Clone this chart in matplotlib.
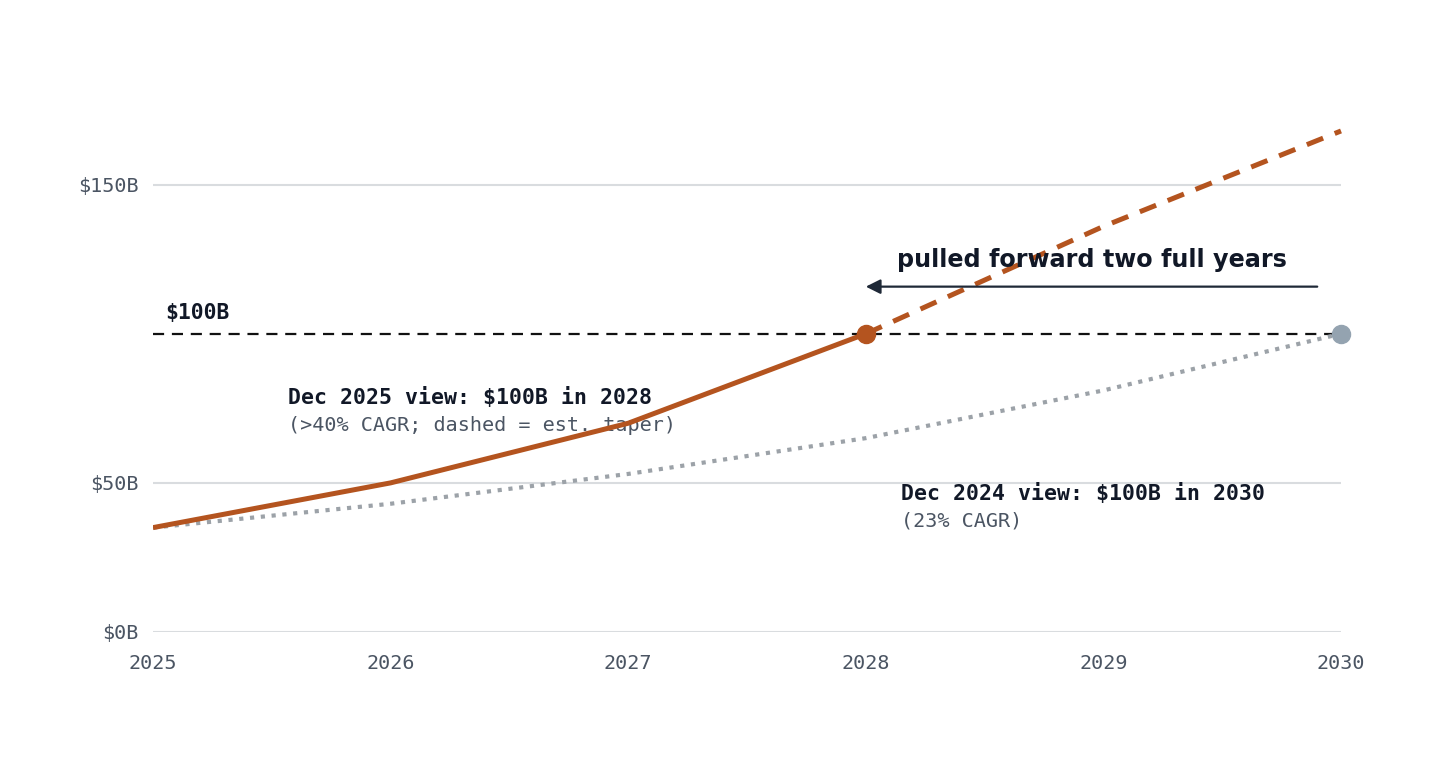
import matplotlib
matplotlib.use("Agg")
import matplotlib.pyplot as plt

# data ($B)
years = [2025, 2026, 2027, 2028, 2029, 2030]
view_2024 = [35, 43, 53, 65, 81, 100]          # 23% CAGR
actual_years = [2025, 2026, 2027, 2028]
view_2025 = [35, 50, 70, 100]                  # >40% CAGR
taper_years = [2028, 2029, 2030]
taper_vals = [100, 136, 168]
target = 100

orange = "#b4541f"
grey_line = "#9ca2a8"
grey_dot = "#94a3b0"
tick_col = "#4b5563"
dark = "#111827"
mono = "DejaVu Sans Mono"

fig = plt.figure(figsize=(14.56, 7.66), dpi=100)
ax = fig.add_axes([153 / 1456, 1 - 632 / 766, (1341 - 153) / 1456, (632 - 125) / 766])

ax.set_xlim(2025, 2030)
ax.set_ylim(0, 170)

for v in [0, 50, 150]:
    ax.axhline(v, color="#d9dcdf", lw=1.5, zorder=0)
ax.axhline(target, color="#111111", lw=1.6, ls=(0, (5, 3.5)), zorder=1)

ax.plot(years, view_2024, color=grey_line, lw=3, ls=(0, (1, 1.6)), zorder=2)
ax.plot(taper_years, taper_vals, color=orange, lw=3.6, ls=(0, (3.5, 2.5)),
        zorder=3, clip_on=False)
ax.plot(actual_years, view_2025, color=orange, lw=3.6, zorder=4,
        solid_capstyle="butt")
ax.plot([2028], [100], "o", color=orange, ms=13, zorder=5)
ax.plot([2030], [100], "o", color=grey_dot, ms=13, zorder=5, clip_on=False)

ax.text(2025.05, 103.5, "$100B", fontsize=15.4, fontweight="bold",
        family=mono, color=dark, va="bottom", ha="left")

ax.text(2025.57, 78.5, "Dec 2025 view: $100B in 2028", fontsize=15.5,
        fontweight="bold", family=mono, color=dark, va="center")
ax.text(2025.57, 69.1, "(>40% CAGR; dashed = est. taper)", fontsize=14.5,
        family=mono, color=tick_col, va="center")

ax.text(2028.15, 46.3, "Dec 2024 view: $100B in 2030", fontsize=15.5,
        fontweight="bold", family=mono, color=dark, va="center")
ax.text(2028.15, 37.2, "(23% CAGR)", fontsize=14.5,
        family=mono, color=tick_col, va="center")

ax.text(2028.95, 124.8, "pulled forward two full years", fontsize=17.2,
        fontweight="bold", color=dark, ha="center", va="center")
ax.annotate("", xy=(2028.0, 115.8), xytext=(2029.9, 115.8),
            arrowprops=dict(arrowstyle="-|>", color="#1f2937", lw=1.6,
                            mutation_scale=22, shrinkA=0, shrinkB=0))

ax.set_xticks(years)
ax.set_xticklabels([str(y) for y in years])
ax.set_yticks([0, 50, 150])
ax.set_yticklabels(["$0B", "$50B", "$150B"])
ax.tick_params(length=0, labelsize=14.5, labelcolor=tick_col)
ax.tick_params(axis="x", pad=16)
ax.tick_params(axis="y", pad=10.5)
for lab in ax.get_xticklabels() + ax.get_yticklabels():
    lab.set_family(mono)
for s in ax.spines.values():
    s.set_visible(False)

fig.savefig("out.png", dpi=100, facecolor="white")
